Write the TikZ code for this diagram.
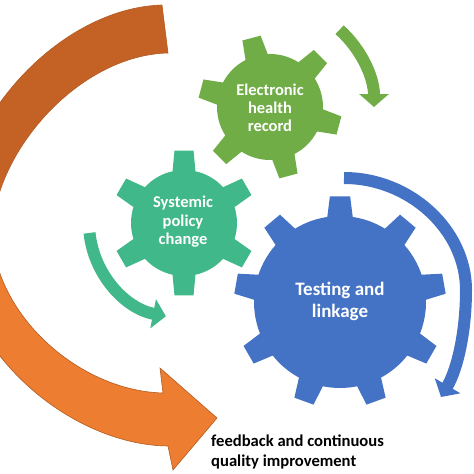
\documentclass[tikz,border=0pt]{standalone}
\usepackage{fontspec}
\setmainfont{Carlito}
\usepackage{xcolor}
\usepackage{tikz}
\usetikzlibrary{arrows.meta, positioning, calc}

\definecolor{gearG}{RGB}{112,173,71}
\definecolor{gearT}{RGB}{64,184,138}
\definecolor{gearB}{RGB}{68,114,196}
\definecolor{orgtop}{RGB}{196,98,38}
\definecolor{orgbot}{RGB}{237,125,49}
\definecolor{orgline}{RGB}{178,92,34}

\pgfdeclareverticalshading{loopshade}{100bp}{color(0bp)=(orgbot); color(46bp)=(orgbot); color(57bp)=(orgtop); color(100bp)=(orgtop)}

\tikzstyle{geartext} = [text=white, font=\bfseries, align=center, inner sep=0pt]
\tikzstyle{looparrow} = [line width=12pt, -{Triangle[width=29pt,length=13pt]}]

% colour, centre, teeth, inner r, outer r, offset, base half angle, tip half angle
\newcommand{\gearfill}[8]{%
  \pgfmathsetmacro{\gstep}{360/#3}
  \fill[#1, shift={(#2)}] ({#6-#7}:#4)
    \foreach \k in {1,...,#3}{
      -- ({#6+(\k-1)*\gstep-#8}:#5) -- ({#6+(\k-1)*\gstep+#8}:#5)
      -- ({#6+(\k-1)*\gstep+#7}:#4)
      arc[start angle={#6+(\k-1)*\gstep+#7}, end angle={#6+\k*\gstep-#7}, radius=#4]
    } -- cycle;
}

\begin{document}
\begin{tikzpicture}[x=1pt, y=-1pt]
    \useasboundingbox (0,0) rectangle (474,474);
    \clip (0,0) rectangle (474,474);

    \coordinate (ehrC) at (270,107);
    \coordinate (spcC) at (184,223);
    \coordinate (talC) at (340,302);

    % big feedback loop
    \shadedraw[shading=loopshade, draw=orgline, line width=0.6pt]
      (162,5) -- (168,53)
      .. controls (80,55) and (-5,150) .. (-8,233)
      .. controls (-5,316) and (80,391) .. (163,393)
      -- (160,368) -- (217,418) -- (173,470) -- (168,446)
      .. controls (70,445) and (-45,350) .. (-45,233)
      .. controls (-45,120) and (60,8) .. (162,5)
      -- cycle;

    % gears
    \gearfill{gearG}{ehrC}{6}{53}{72}{15}{12.5}{7.5}
    \gearfill{gearT}{spcC}{6}{53}{73}{30}{12.5}{7.5}
    \gearfill{gearB}{talC}{9}{86}{106}{30}{8.5}{5.5}

    \node[geartext, font=\bfseries\fontsize{16.5}{18}\selectfont] (ehr) at (270,108) {Electronic\\health\\record};
    \node[geartext, font=\bfseries\fontsize{16.5}{18.5}\selectfont] (spc) at (183,222) {Systemic\\policy\\change};
    \node[geartext, font=\bfseries\fontsize{19}{22}\selectfont] (tal) at (340,301) {Testing and\\linkage};
    \node[anchor=west, align=left, inner sep=0pt, font=\bfseries\fontsize{16.6}{20.5}\selectfont] (fb) at (211,452) {feedback and continuous\\quality improvement};

    % small turning arrows
    \draw[looparrow, gearG] ($(ehrC)+(-48:104)$) arc[start angle=-48, end angle=0, radius=104];
    \draw[looparrow, gearT] ($(spcC)+(174:95)$) arc[start angle=174, end angle=101, radius=95];
    \draw[looparrow, gearB] (344,178) .. controls (410,178) and (466,230) .. (466,290)
      .. controls (466,330) and (458,368) .. (441,397);
\end{tikzpicture}
\end{document}
